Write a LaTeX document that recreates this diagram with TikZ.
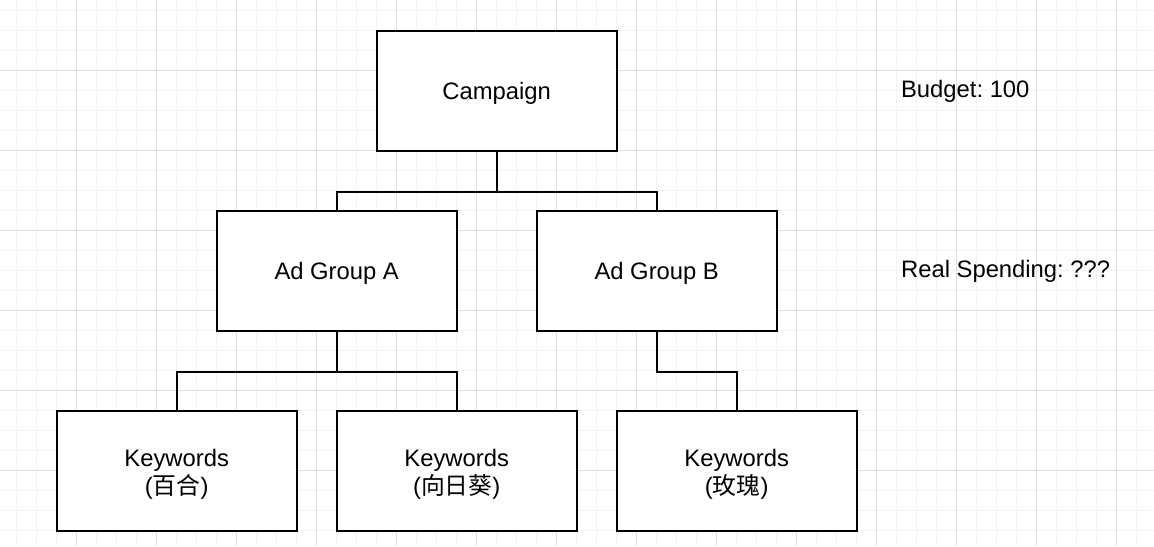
\documentclass[tikz,border=0pt]{standalone}
\usepackage{fontspec}
\setmainfont{Liberation Sans}
\newfontfamily\cjk{Noto Sans CJK SC}
\definecolor{minorgrid}{HTML}{F3F3F3}
\definecolor{majorgrid}{HTML}{DFDFDF}
\frenchspacing
\begin{document}
\begin{tikzpicture}[x=0.5pt,y=-0.5pt,
  minorline/.style={draw=minorgrid,line width=0.5pt},
  majorline/.style={draw=majorgrid,line width=0.5pt},
  box/.style={draw=black,line width=1pt,fill=white,minimum width=120pt,minimum height=60pt,inner sep=0pt,align=center,text height=9.9pt,text depth=0.8pt,font=\fontsize{11.9}{13.8}\selectfont},
  kwbox/.style={box,text height=24.2pt,text depth=0.4pt},
  conn/.style={draw=black,line width=1pt},
  note/.style={anchor=base west,inner sep=0pt,font=\fontsize{11.9}{13.8}\selectfont}]
\useasboundingbox[fill=white] (0,0) rectangle (1154,546);
% grid
\foreach \k in {0,...,56} {\draw[minorline] ({16.7+20*\k},0) -- ({16.7+20*\k},546);}
\foreach \k in {0,...,27} {\draw[minorline] (0,{10+20*\k}) -- (1154,{10+20*\k});}
\foreach \k in {0,...,14} {\draw[majorline] ({76.7+80*\k},0) -- ({76.7+80*\k},546);}
\foreach \k in {0,...,6} {\draw[majorline] (0,{70+80*\k}) -- (1154,{70+80*\k});}
% nodes
\node[box] (camp) at (496.7,90.5) {Campaign};
\node[box] (ada) at (336.7,270.5) {Ad Group A};
\node[box] (adb) at (656.7,270.5) {Ad Group B};
\node[kwbox] (kw1) at (176.7,470.5) {Keywords\\({\cjk 百合})};
\node[kwbox] (kw2) at (456.7,470.5) {Keywords\\({\cjk 向日葵})};
\node[kwbox] (kw3) at (736.7,470.5) {Keywords\\({\cjk 玫瑰})};
\node[note] (budget) at (900.7,97.7) {Budget: 100};
\node[note] (spend) at (900.7,277.4) {Real Spending: ???};
% connectors
\draw[conn] (camp.south) -- ++(0,40) -| (ada.north);
\draw[conn] (camp.south) -- ++(0,40) -| (adb.north);
\draw[conn] (ada.south) -- ++(0,40) -| (kw1.north);
\draw[conn] (ada.south) -- ++(0,40) -| (kw2.north);
\draw[conn] (adb.south) -- ++(0,40) -| (kw3.north);
\end{tikzpicture}
\end{document}
